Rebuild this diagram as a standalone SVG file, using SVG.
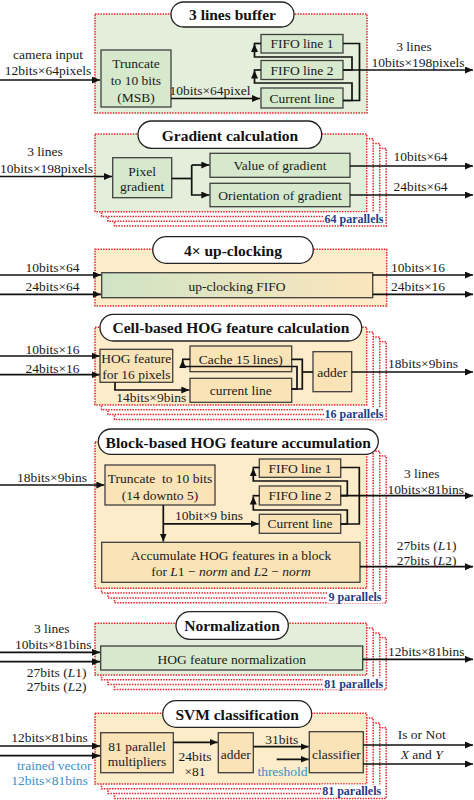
<svg xmlns="http://www.w3.org/2000/svg" width="474" height="800" viewBox="0 0 474 800">
<defs>
<marker id="ar" markerUnits="userSpaceOnUse" markerWidth="9" markerHeight="8" refX="8" refY="3.5" orient="auto"><path d="M0,0 L8,3.5 L0,7 z" fill="#111"/></marker>
<linearGradient id="fifo" x1="0" y1="0" x2="1" y2="0"><stop offset="0" stop-color="#cfe4c5"/><stop offset="1" stop-color="#fbe5bd"/></linearGradient>
<style>
text{font-family:"Liberation Serif","Times New Roman",serif;font-size:13.5px;fill:#1a1a1a;text-anchor:middle}
.t{font-weight:bold;font-size:15.5px;fill:#111}
.par{font-weight:bold;font-size:12px;fill:#1f3c88}
.blue{fill:#3a90c8}
.i{font-style:italic}
.fr{stroke:#e3262a;stroke-width:1.5;stroke-dasharray:1.5 1.2}
.bk{fill:#fff}
.fg{fill:#e3efda}
.fy{fill:#fdecc9}
.box{stroke:#3f3f3f;stroke-width:1.3}
.bg{fill:#d7e9cd}
.by{fill:#fbe3b8}
.pill{fill:#fff;stroke:#222;stroke-width:1.3}
.w{fill:none;stroke:#111;stroke-width:1.7}
.wa{fill:none;stroke:#111;stroke-width:1.7;marker-end:url(#ar)}
</style>
</defs>

<g id="buffer">
<rect class="fr fg" x="95" y="14" width="272" height="99"/>
<rect class="pill" x="171" y="2" width="123" height="25" rx="12.5"/>
<text class="t" x="232.5" y="20">3 lines buffer</text>
<rect class="box bg" x="101" y="50" width="70" height="57"/>
<text x="136" y="67.5">Truncate</text>
<text x="136" y="84.5">to 10 bits</text>
<text x="136" y="101.5">(MSB)</text>
<rect class="box bg" x="261" y="34.5" width="82" height="18.5"/>
<text x="302" y="48">FIFO line 1</text>
<rect class="box bg" x="261" y="60.5" width="82" height="19"/>
<text x="302" y="74.5">FIFO line 2</text>
<rect class="box bg" x="261" y="88" width="82" height="20"/>
<text x="302" y="102.5">Current line</text>
</g>

<g id="gradient">
<rect class="fr bk" x="114.5" y="148.4" width="271.7" height="77.7"/>
<rect class="fr bk" x="108" y="143.6" width="271.7" height="77.7"/>
<rect class="fr bk" x="101.5" y="138.8" width="271.7" height="77.7"/>
<rect class="fr fg" x="95" y="134" width="271.7" height="77.7"/>
<rect x="324" y="212.5" width="60" height="12" fill="#fff"/>
<text class="par" x="354" y="222.5">64 parallels</text>
<rect class="pill" x="138" y="121" width="183.7" height="27.3" rx="13.6"/>
<text class="t" x="230" y="140.5">Gradient calculation</text>
<rect class="box bg" x="112.7" y="157.7" width="59" height="40"/>
<text x="142.2" y="175.5">Pixel</text>
<text x="142.2" y="191">gradient</text>
<rect class="box bg" x="210" y="153.3" width="140" height="24"/>
<text x="280" y="170">Value of gradient</text>
<rect class="box bg" x="210" y="183.3" width="140" height="23.4"/>
<text x="280" y="199.5">Orientation of gradient</text>
</g>

<g id="upclock">
<rect class="fr fy" x="95" y="249.3" width="291.7" height="56.7"/>
<rect class="pill" x="152.7" y="236.7" width="160.6" height="26.6" rx="13.3"/>
<text class="t" x="233" y="256">4× up-clocking</text>
<rect class="box" fill="url(#fifo)" x="101.7" y="272.7" width="271" height="25"/>
<text x="237" y="291">up-clocking FIFO</text>
</g>

<g id="cellhog">
<rect class="fr bk" x="114.5" y="341.7" width="271.7" height="77.7"/>
<rect class="fr bk" x="108" y="336.9" width="271.7" height="77.7"/>
<rect class="fr bk" x="101.5" y="332.1" width="271.7" height="77.7"/>
<rect class="fr fy" x="95" y="327.3" width="271.7" height="77.7"/>
<rect x="324" y="407.5" width="60" height="12" fill="#fff"/>
<text class="par" x="354" y="417.5">16 parallels</text>
<rect class="pill" x="100" y="314.3" width="261.7" height="26.7" rx="13.3"/>
<text class="t" x="231" y="333">Cell-based HOG feature calculation</text>
<rect class="box by" x="100" y="349.3" width="72.7" height="33"/>
<text x="136.3" y="363">HOG feature</text>
<text x="136.3" y="378.5">for 16 pixels</text>
<rect class="box by" x="190" y="346" width="101.7" height="25.7"/>
<text x="240.8" y="363.5">Cache 15 lines)</text>
<rect class="box by" x="190" y="378.3" width="101.7" height="24"/>
<text x="240.8" y="395">current line</text>
<rect class="box by" x="313" y="351.7" width="38.7" height="40"/>
<text x="332.3" y="376.5">adder</text>
</g>

<g id="blockhog">
<rect class="fr bk" x="114.5" y="456.1" width="271.7" height="146.6"/>
<rect class="fr bk" x="108" y="451.3" width="271.7" height="146.6"/>
<rect class="fr bk" x="101.5" y="446.5" width="271.7" height="146.6"/>
<rect class="fr fy" x="95" y="441.7" width="271.7" height="146.6"/>
<rect x="327" y="591" width="56" height="12" fill="#fff"/>
<text class="par" x="355" y="601">9 parallels</text>
<rect class="pill" x="98.3" y="429" width="280" height="25.3" rx="12.6"/>
<text class="t" x="238.3" y="447.5">Block-based HOG feature accumulation</text>
<rect class="box by" x="105" y="465" width="110" height="40"/>
<text x="160" y="483" xml:space="preserve">Truncate  to 10 bits</text>
<text x="160" y="499.5">(14 downto 5)</text>
<rect class="box by" x="259.3" y="459" width="81.4" height="18.3"/>
<text x="300" y="472.7">FIFO line 1</text>
<rect class="box by" x="259.3" y="486" width="81.4" height="19"/>
<text x="300" y="500">FIFO line 2</text>
<rect class="box by" x="259.3" y="514.3" width="81.4" height="19"/>
<text x="300" y="528.3">Current line</text>
<rect class="box by" x="101.7" y="542.3" width="258.3" height="40"/>
<text x="231" y="559.5">Accumulate HOG features in a block</text>
<text x="231" y="576">for <tspan class="i">L</tspan>1 − <tspan class="i">norm</tspan> and <tspan class="i">L</tspan>2 − <tspan class="i">norm</tspan></text>
</g>

<g id="normalization">
<rect class="fr bk" x="114.5" y="637.7" width="271.7" height="51.7"/>
<rect class="fr bk" x="108" y="632.9" width="271.7" height="51.7"/>
<rect class="fr bk" x="101.5" y="628.1" width="271.7" height="51.7"/>
<rect class="fr fg" x="95" y="623.3" width="271.7" height="51.7"/>
<rect x="323" y="677.5" width="61" height="12" fill="#fff"/>
<text class="par" x="353.7" y="687.5">81 parallels</text>
<rect class="pill" x="176" y="611.7" width="112.3" height="27.6" rx="13.8"/>
<text class="t" x="232" y="631">Normalization</text>
<rect class="box bg" x="100.7" y="646" width="262" height="24"/>
<text x="231.7" y="664">HOG feature normalization</text>
</g>

<g id="svm">
<rect class="fr bk" x="114.5" y="727.7" width="271.7" height="70.7"/>
<rect class="fr bk" x="108" y="722.9" width="271.7" height="70.7"/>
<rect class="fr bk" x="101.5" y="718.1" width="271.7" height="70.7"/>
<rect class="fr fy" x="95" y="713.3" width="271.7" height="70.7"/>
<rect x="321" y="784.5" width="61" height="12" fill="#fff"/>
<text class="par" x="351.7" y="794.5">81 parallels</text>
<rect class="pill" x="162.7" y="700.7" width="149" height="26.6" rx="13.3"/>
<text class="t" x="237.2" y="719.5">SVM classification</text>
<rect class="box by" x="100.7" y="732.7" width="72.6" height="40"/>
<text x="137" y="750.5">81 parallel</text>
<text x="137" y="766">multipliers</text>
<rect class="box by" x="218.3" y="732.7" width="35" height="40"/>
<text x="235.8" y="758.5">adder</text>
<rect class="box by" x="309.3" y="731.7" width="54" height="41"/>
<text x="336.3" y="758.5">classifier</text>
</g>

<g id="connectors">
<!-- buffer -->
<path class="wa" d="M0,80 H100"/>
<text x="48" y="59">camera input</text>
<text x="48" y="74.5">12bits×64pixels</text>
<path class="wa" d="M171,98.5 H260"/>
<text x="210" y="94.5">10bits×64pixel</text>
<path class="wa" d="M343,100.5 H352 V83 H254.5 V70.5"/>
<path class="w" d="M253.7,70 H261"/>
<path class="wa" d="M343,70 H352 V57 H254.5 V44"/>
<path class="w" d="M253.7,43.5 H261"/>
<path class="w" d="M343,43.5 H359.5 V100.5 H343"/>
<path class="wa" d="M343,70 H473"/>
<text x="414" y="51">3 lines</text>
<text x="418" y="67">10bits×198pixels</text>
<!-- gradient -->
<path class="wa" d="M0,176.5 H112"/>
<text x="45" y="156">3 lines</text>
<text x="46.5" y="172.8">10bits×198pixels</text>
<path class="w" d="M171.7,178.5 H191.7"/>
<path class="wa" d="M191.7,165 V195 H209.3"/>
<path class="wa" d="M191.7,165 H209.3"/>
<path class="wa" d="M350,166 H473"/>
<path class="wa" d="M350,195 H473"/>
<text x="420.5" y="161">10bits×64</text>
<text x="420.5" y="191">24bits×64</text>
<!-- upclock -->
<path class="wa" d="M0,275 H101"/>
<path class="wa" d="M0,294.3 H101"/>
<text x="52.5" y="271.5">10bits×64</text>
<text x="52.5" y="290.5">24bits×64</text>
<path class="wa" d="M372.7,275 H473"/>
<path class="wa" d="M372.7,294.3 H473"/>
<text x="418" y="271.5">10bits×16</text>
<text x="418" y="290.5">24bits×16</text>
<!-- cell -->
<path class="wa" d="M0,356 H99.5"/>
<path class="wa" d="M0,374.7 H99.5"/>
<text x="52.5" y="353.5">10bits×16</text>
<text x="52.5" y="372.5">24bits×16</text>
<path class="wa" d="M115,382.3 V390 H189.3"/>
<text x="151.3" y="401.5">14bits×9bins</text>
<path class="wa" d="M291.7,389 H297 V366.5 H182.7 V360"/>
<path class="w" d="M182,359.3 H190"/>
<path class="w" d="M291.7,359.3 H302.3 V389 H291.7"/>
<path class="w" d="M302.3,372 H313"/>
<path class="wa" d="M351.7,372 H473"/>
<text x="423" y="368">18bits×9bins</text>
<!-- block -->
<path class="wa" d="M0,485 H104.3"/>
<text x="52" y="482">18bits×9bins</text>
<path class="wa" d="M163.3,505 V541.5"/>
<path class="wa" d="M163.3,523.8 H258.6"/>
<text x="209" y="520">10bit×9 bins</text>
<path class="wa" d="M340.7,524 H347.3 V510 H253.3 V496.5"/>
<path class="w" d="M252.5,495.7 H259.3"/>
<path class="wa" d="M340.7,495.7 H347.3 V481 H253.3 V468.3"/>
<path class="w" d="M252.5,467.5 H259.3"/>
<path class="w" d="M340.7,467.5 H359.3 V524 H340.7"/>
<path class="wa" d="M340.7,495.7 H473"/>
<text x="421.7" y="478">3 lines</text>
<text x="425.8" y="493.5">10bits×81bins</text>
<path class="wa" d="M360,566.7 H473"/>
<text x="426.7" y="550">27bits (<tspan class="i">L</tspan>1)</text>
<text x="426.7" y="564.5">27bits (<tspan class="i">L</tspan>2)</text>
<!-- normalization -->
<path class="wa" d="M0,652.3 H100"/>
<path class="wa" d="M0,661.7 H100"/>
<text x="51.7" y="633">3 lines</text>
<text x="53.3" y="648.5">10bits×81bins</text>
<text x="56.7" y="677">27bits (<tspan class="i">L</tspan>1)</text>
<text x="56.7" y="690.5">27bits (<tspan class="i">L</tspan>2)</text>
<path class="wa" d="M362.7,659.3 H473"/>
<text x="426.3" y="656">12bits×81bins</text>
<!-- svm -->
<path class="wa" d="M0,746 H100"/>
<path class="wa" d="M0,755.7 H100"/>
<text x="49.5" y="742">12bits×81bins</text>
<text class="blue" x="54.3" y="769.5">trained vector</text>
<text class="blue" x="49.5" y="785">12bits×81bins</text>
<path class="wa" d="M173.3,742.3 H217.6"/>
<text x="195" y="761">24bits</text>
<text x="195" y="776">×81</text>
<path class="wa" d="M253.3,746.7 H308.6"/>
<text x="281.7" y="744">31bits</text>
<path class="wa" d="M276.7,759.3 H308.6"/>
<text class="blue" x="282.5" y="776">threshold</text>
<path class="wa" d="M363.3,745 H473"/>
<path class="wa" d="M363.3,764 H473"/>
<text x="421.7" y="738.5">Is or Not</text>
<text x="421.7" y="758.5"><tspan class="i">X</tspan> and <tspan class="i">Y</tspan></text>
</g>
</svg>
